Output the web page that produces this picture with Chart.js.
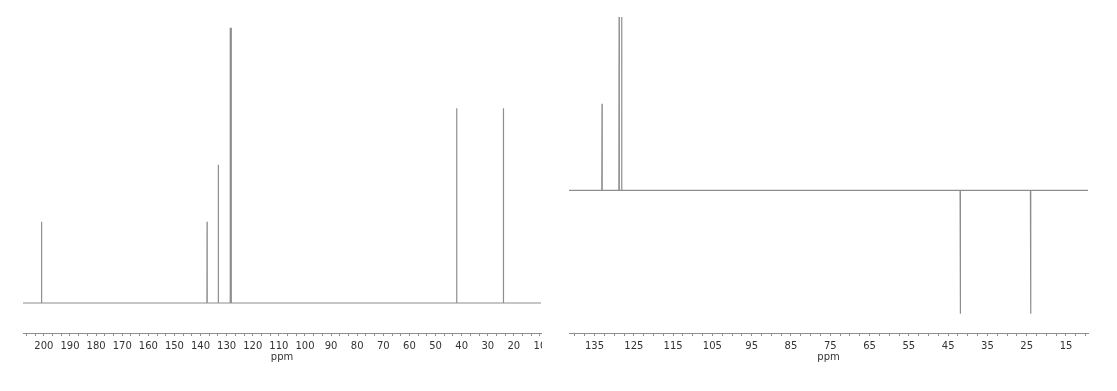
<!DOCTYPE html>
<html>
<head>
<meta charset="utf-8">
<script src="https://cdn.jsdelivr.net/npm/chart.js@4/dist/chart.umd.min.js"></script>
<style>
  html, body { margin: 0; padding: 0; background: #fff; width: 1117px; height: 391px; overflow: hidden; }
  #left { position: absolute; left: 0; top: 0; width: 542px; height: 391px; overflow: hidden; }
  #left canvas { position: absolute; left: 0; top: 0; }
  #right { position: absolute; left: 555px; top: 0; width: 562px; height: 391px; }
</style>
</head>
<body>
<div id="left"><canvas id="c13" width="560" height="391"></canvas></div>
<div id="right"><canvas id="dept" width="562" height="391"></canvas></div>
<script>
// 13C spectrum (left)
const c13Shifts  = [200.9, 137.5, 133.2, 128.65, 128.25, 41.9, 24.0];
const c13Heights = [29.5, 29.5, 50.2, 100, 100, 70.7, 70.7];
const c13Labels  = [200, 190, 180, 170, 160, 150, 140, 130, 120, 110, 100, 90, 80, 70, 60, 50, 40, 30, 20, 10];

// DEPT-135 spectrum (right)
const deptShifts  = [133.1, 128.75, 128.1, 41.9, 24.0];
const deptHeights = [49.9, 100, 100, -71.2, -71.2];
const deptLabels  = [135, 125, 115, 105, 95, 85, 75, 65, 55, 45, 35, 25, 15];

const LINE = '#8e8e8e';
const TEXT = '#333';
const FONT = { family: 'DejaVu Sans', size: 10 };

function spectrum(shifts, heights, lo, hi) {
  const order = shifts.map((s, i) => i).sort((a, b) => shifts[b] - shifts[a]);
  const pts = [{ x: hi, y: 0 }];
  for (const i of order) {
    pts.push({ x: shifts[i] + 0.06, y: 0 });
    pts.push({ x: shifts[i], y: heights[i] });
    pts.push({ x: shifts[i] - 0.06, y: 0 });
  }
  pts.push({ x: lo, y: 0 });
  return pts;
}

function makeChart(id, cfg) {
  return new Chart(document.getElementById(id), {
    type: 'line',
    data: {
      datasets: [{
        data: spectrum(cfg.shifts, cfg.heights, cfg.min, cfg.max),
        borderColor: LINE,
        borderWidth: 1.2,
        pointRadius: 0,
        tension: 0
      }]
    },
    options: {
      responsive: false,
      animation: false,
      layout: { padding: { left: cfg.padLeft, right: cfg.padRight, top: 0, bottom: 0 } },
      plugins: { legend: { display: false }, tooltip: { enabled: false } },
      scales: {
        x: {
          type: 'linear',
          reverse: true,
          min: cfg.min,
          max: cfg.max,
          afterBuildTicks: ax => { ax.ticks = cfg.tickVals.map(v => ({ value: v })); },
          afterFit: ax => { ax.height = 58; },
          ticks: {
            autoSkip: false,
            maxRotation: 0,
            padding: 4,
            color: TEXT,
            font: FONT,
            callback: v => {
              const m = cfg.labels.find(l => Math.abs(l - v) < 1e-6);
              return m === undefined ? '' : String(m);
            }
          },
          grid: { drawOnChartArea: false, drawTicks: true, tickLength: 3, color: LINE, lineWidth: 1 },
          border: { display: true, color: LINE, width: 1 },
          title: { display: true, text: 'ppm', color: TEXT, font: FONT, padding: { top: 0, bottom: 28 } }
        },
        y: { display: false, min: cfg.ymin, max: cfg.ymax }
      }
    }
  });
}

const c13Ticks = [];
for (let k = 0; k < 60; k++) c13Ticks.push(10 + k * 10 / 3);
const deptTicks = [];
for (let k = 0; k <= 52; k++) deptTicks.push(10 + k * 2.5);

makeChart('c13', {
  shifts: c13Shifts, heights: c13Heights, labels: c13Labels, tickVals: c13Ticks,
  min: 9.6, max: 208.0, ymin: -10.9, ymax: 110.06, padLeft: 23, padRight: 19
});

makeChart('dept', {
  shifts: deptShifts, heights: deptHeights, labels: deptLabels, tickVals: deptTicks,
  min: 9.4, max: 141.5, ymin: -82.3, ymax: 109.8, padLeft: 14, padRight: 29
});
</script>
</body>
</html>
